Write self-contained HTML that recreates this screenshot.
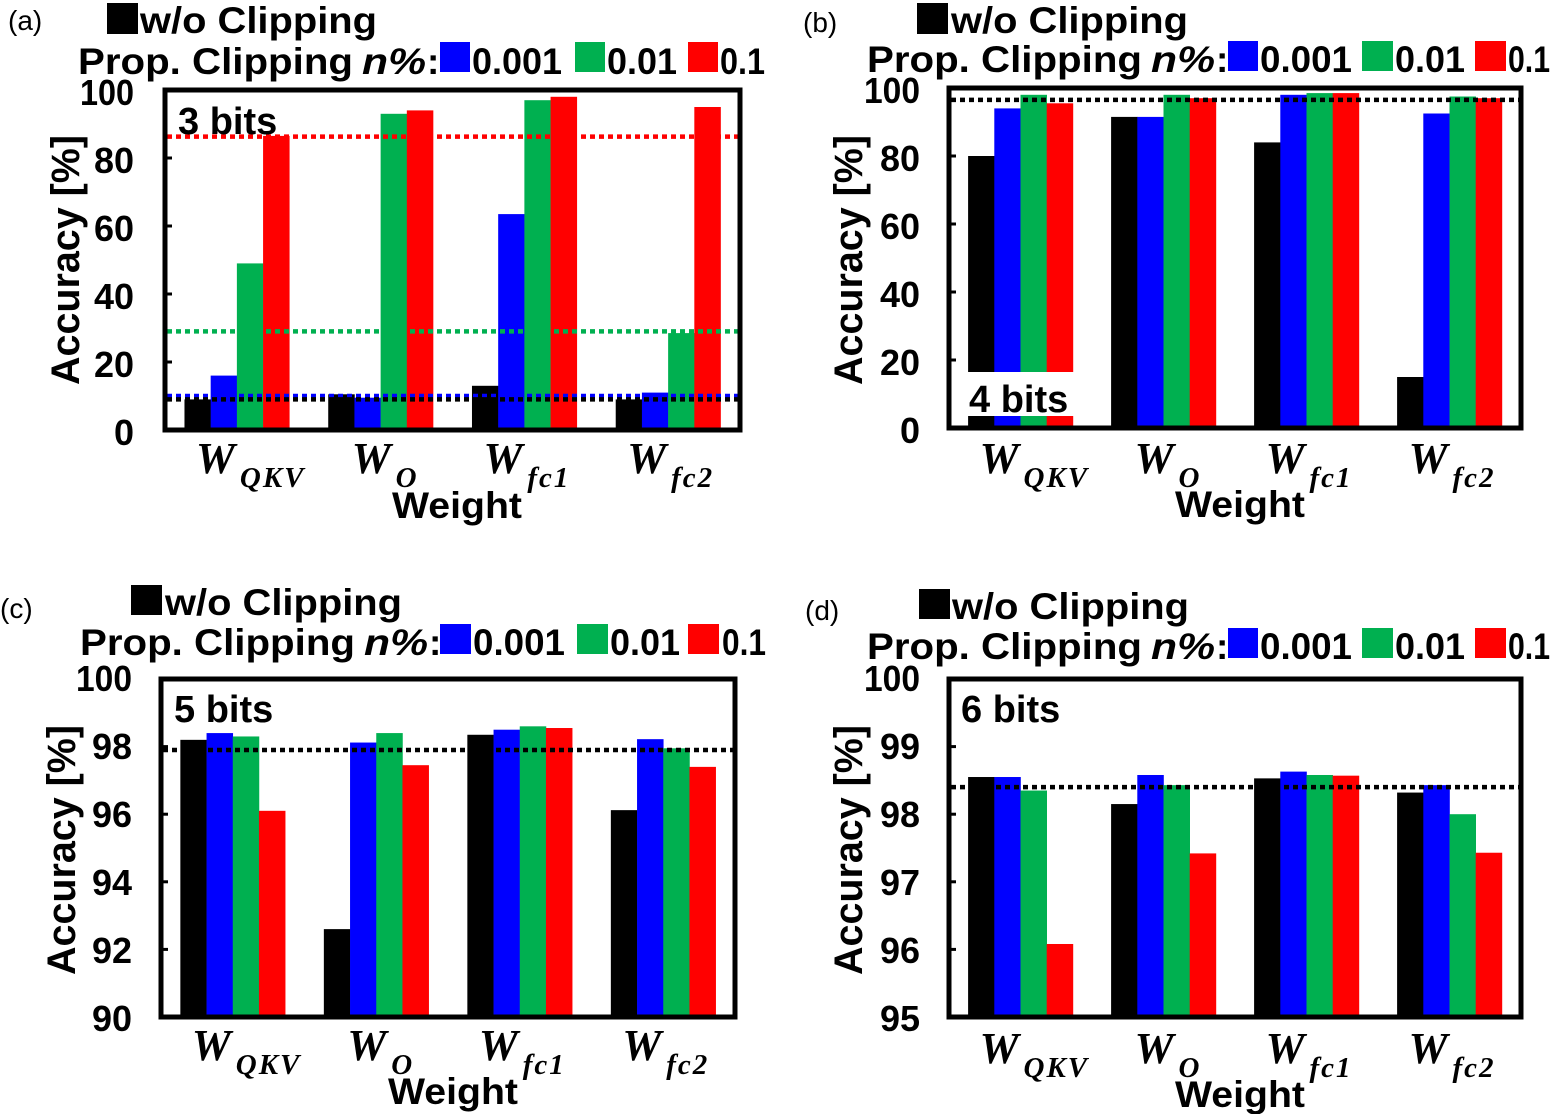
<!DOCTYPE html>
<html><head><meta charset="utf-8"><style>
html,body{margin:0;padding:0;background:#fff;}
svg{display:block;}
.t{font-family:"Liberation Sans",Arial,sans-serif;font-weight:bold;fill:#000;}
.pl{font-family:"Liberation Sans",Arial,sans-serif;font-size:28px;fill:#000;}
.w{font-family:"Liberation Serif","DejaVu Serif",serif;font-style:italic;font-weight:bold;fill:#000;}
</style></head><body>
<svg id="s" width="1550" height="1114" viewBox="0 0 1550 1114" xmlns="http://www.w3.org/2000/svg">
<g id="bars"></g>
<text class="pl" x="8" y="30">(a)</text>
<text class="pl" x="803" y="32">(b)</text>
<text class="pl" x="0" y="618">(c)</text>
<text class="pl" x="805" y="620">(d)</text>

<rect x="107" y="3" width="31" height="31" fill="#000"/>
<text class="t" x="140" y="33" font-size="37" textLength="237" lengthAdjust="spacingAndGlyphs">w/o Clipping</text>
<text class="t" x="78" y="74" font-size="37" textLength="275" lengthAdjust="spacingAndGlyphs">Prop. Clipping</text>
<text class="t" x="362" y="74" font-size="37" font-style="italic" textLength="64" lengthAdjust="spacingAndGlyphs">n%</text>
<text class="t" x="427" y="74" font-size="37">:</text>
<rect x="440" y="42" width="30" height="30" fill="#0000ff"/>
<text class="t" x="472" y="74" font-size="37" textLength="90" lengthAdjust="spacingAndGlyphs">0.001</text>
<rect x="575" y="42" width="30" height="30" fill="#00b050"/>
<text class="t" x="607" y="74" font-size="37" textLength="70" lengthAdjust="spacingAndGlyphs">0.01</text>
<rect x="688" y="42" width="30" height="30" fill="#ff0000"/>
<text class="t" x="720" y="74" font-size="37" textLength="45" lengthAdjust="spacingAndGlyphs">0.1</text>

<rect x="917" y="3" width="31" height="31" fill="#000"/>
<text class="t" x="951" y="33" font-size="37" textLength="237" lengthAdjust="spacingAndGlyphs">w/o Clipping</text>
<text class="t" x="867" y="72" font-size="37" textLength="275" lengthAdjust="spacingAndGlyphs">Prop. Clipping</text>
<text class="t" x="1151" y="72" font-size="37" font-style="italic" textLength="64" lengthAdjust="spacingAndGlyphs">n%</text>
<text class="t" x="1216" y="72" font-size="37">:</text>
<rect x="1228" y="41" width="30" height="30" fill="#0000ff"/>
<text class="t" x="1260" y="72" font-size="37" textLength="92" lengthAdjust="spacingAndGlyphs">0.001</text>
<rect x="1362" y="41" width="31" height="30" fill="#00b050"/>
<text class="t" x="1395" y="72" font-size="37" textLength="70" lengthAdjust="spacingAndGlyphs">0.01</text>
<rect x="1475" y="41" width="31" height="30" fill="#ff0000"/>
<text class="t" x="1508" y="72" font-size="37" textLength="42" lengthAdjust="spacingAndGlyphs">0.1</text>

<rect x="131" y="585" width="31" height="30" fill="#000"/>
<text class="t" x="165" y="615" font-size="37" textLength="237" lengthAdjust="spacingAndGlyphs">w/o Clipping</text>
<text class="t" x="80" y="655" font-size="37" textLength="275" lengthAdjust="spacingAndGlyphs">Prop. Clipping</text>
<text class="t" x="364" y="655" font-size="37" font-style="italic" textLength="64" lengthAdjust="spacingAndGlyphs">n%</text>
<text class="t" x="429" y="655" font-size="37">:</text>
<rect x="440" y="624" width="31" height="30" fill="#0000ff"/>
<text class="t" x="473" y="655" font-size="37" textLength="92" lengthAdjust="spacingAndGlyphs">0.001</text>
<rect x="577" y="624" width="31" height="30" fill="#00b050"/>
<text class="t" x="610" y="655" font-size="37" textLength="70" lengthAdjust="spacingAndGlyphs">0.01</text>
<rect x="688" y="624" width="31" height="30" fill="#ff0000"/>
<text class="t" x="722" y="655" font-size="37" textLength="44" lengthAdjust="spacingAndGlyphs">0.1</text>

<rect x="919" y="589" width="31" height="30" fill="#000"/>
<text class="t" x="952" y="619" font-size="37" textLength="237" lengthAdjust="spacingAndGlyphs">w/o Clipping</text>
<text class="t" x="867" y="659" font-size="37" textLength="275" lengthAdjust="spacingAndGlyphs">Prop. Clipping</text>
<text class="t" x="1151" y="659" font-size="37" font-style="italic" textLength="64" lengthAdjust="spacingAndGlyphs">n%</text>
<text class="t" x="1216" y="659" font-size="37">:</text>
<rect x="1228" y="628" width="30" height="30" fill="#0000ff"/>
<text class="t" x="1260" y="659" font-size="37" textLength="92" lengthAdjust="spacingAndGlyphs">0.001</text>
<rect x="1362" y="628" width="31" height="30" fill="#00b050"/>
<text class="t" x="1395" y="659" font-size="37" textLength="70" lengthAdjust="spacingAndGlyphs">0.01</text>
<rect x="1475" y="628" width="31" height="30" fill="#ff0000"/>
<text class="t" x="1508" y="659" font-size="37" textLength="42" lengthAdjust="spacingAndGlyphs">0.1</text>

<text class="t" font-size="40" text-anchor="middle" transform="translate(79,260) rotate(-90)" textLength="250" lengthAdjust="spacingAndGlyphs">Accuracy [%]</text>
<text class="t" font-size="40" text-anchor="middle" transform="translate(862,260) rotate(-90)" textLength="250" lengthAdjust="spacingAndGlyphs">Accuracy [%]</text>
<text class="t" font-size="40" text-anchor="middle" transform="translate(75,850) rotate(-90)" textLength="250" lengthAdjust="spacingAndGlyphs">Accuracy [%]</text>
<text class="t" font-size="40" text-anchor="middle" transform="translate(862,850) rotate(-90)" textLength="250" lengthAdjust="spacingAndGlyphs">Accuracy [%]</text>

<g class="t" font-size="36" text-anchor="end">
<text x="134" y="105" textLength="54" lengthAdjust="spacingAndGlyphs">100</text>
<text x="134" y="173">80</text><text x="134" y="241">60</text><text x="134" y="309">40</text><text x="134" y="377">20</text><text x="134" y="445">0</text>
</g>
<g class="t" font-size="36" text-anchor="end">
<text x="920" y="103" textLength="56" lengthAdjust="spacingAndGlyphs">100</text>
<text x="920" y="171">80</text><text x="920" y="239">60</text><text x="920" y="307">40</text><text x="920" y="375">20</text><text x="920" y="443">0</text>
</g>
<g class="t" font-size="36" text-anchor="end">
<text x="132" y="691" textLength="56" lengthAdjust="spacingAndGlyphs">100</text>
<text x="132" y="759">98</text><text x="132" y="827">96</text><text x="132" y="895">94</text><text x="132" y="963">92</text><text x="132" y="1031">90</text>
</g>
<g class="t" font-size="36" text-anchor="end">
<text x="920" y="691" textLength="56" lengthAdjust="spacingAndGlyphs">100</text>
<text x="920" y="759">99</text><text x="920" y="827">98</text><text x="920" y="895">97</text><text x="920" y="963">96</text><text x="920" y="1031">95</text>
</g>

<g id="fg"></g>

<text class="t" x="178" y="134" font-size="38">3 bits</text>
<rect x="968" y="372" width="106" height="44" fill="#fff"/>
<text class="t" x="969" y="412" font-size="38">4 bits</text>
<text class="t" x="174" y="722" font-size="38">5 bits</text>
<text class="t" x="961" y="722" font-size="38">6 bits</text>

<g id="cats"></g>
</svg>
<script>
var NS="http://www.w3.org/2000/svg";
var bars=document.getElementById('bars'),fg=document.getElementById('fg'),cats=document.getElementById('cats');
function el(p,n,a,txt){var e=document.createElementNS(NS,n);for(var k in a)e.setAttribute(k,a[k]);if(txt!==undefined)e.textContent=txt;p.appendChild(e);return e;}
var C=['#000','#0000ff','#00b050','#ff0000'];
var P=[
 {L:165,R:740,T:90,B:430,lo:0,hi:100,ticks:[0,20,40,60,80,100],
  v:[[9,16,49,86.5],[10.5,9.5,93,94],[13,63.5,97,98],[9,11,28.5,95]],
  refs:[[86.3,'#ff0000'],[29,'#00b050'],[10,'#0000ff'],[9,'#000']],sub:[470,518],wx:457},
 {L:949,R:1521,T:88,B:428,lo:0,hi:100,ticks:[0,20,40,60,80,100],
  v:[[80,94,98,95.5],[91.5,91.5,98,97],[84,98,98.5,98.5],[15,92.5,97.5,97]],
  refs:[[96.5,'#000']],sub:[470,517],wx:1240},
 {L:161,R:735,T:679,B:1017,lo:90,hi:100,ticks:[90,92,94,96,98,100],
  v:[[98.2,98.4,98.3,96.1],[92.6,98.12,98.4,97.45],[98.35,98.5,98.6,98.55],[96.12,98.22,97.95,97.4]],
  refs:[[97.9,'#000']],sub:[1057,1104],wx:453},
 {L:949,R:1521,T:679,B:1017,lo:95,hi:100,ticks:[95,96,97,98,99,100],
  v:[[98.55,98.55,98.35,96.08],[98.15,98.58,98.43,97.42],[98.53,98.63,98.58,98.57],[98.32,98.43,98.0,97.43]],
  refs:[[98.4,'#000']],sub:[1060,1107],wx:1240}
];
var names=[['QKV'],['O'],['fc1'],['fc2']];
P.forEach(function(p,pi){
 function Y(v){return p.B-(v-p.lo)/(p.hi-p.lo)*(p.B-p.T);}
 var gw=(p.R-p.L)/4,bw=26.2;
 for(var g=0;g<4;g++){
  var cx=p.L+gw*(g+0.5);
  for(var s=0;s<4;s++){
   var x=cx-2*bw+s*bw,y=Y(p.v[g][s]);
   el(bars,'rect',{x:x,y:y,width:bw+0.3,height:p.B-y,fill:C[s]});
  }
  var wx=cx-41+(g==1?12:0);
  el(cats,'text',{'class':'w',x:wx,y:p.sub[0]+3,'font-size':44},'W');
  el(cats,'text',{'class':'w',x:wx+44,y:p.sub[0]+17,'font-size':29,'letter-spacing':2},names[g][0]);
 }
 el(cats,'text',{'class':'t',x:p.wx,y:p.sub[1],'font-size':37,'text-anchor':'middle',textLength:130,lengthAdjust:'spacingAndGlyphs'},'Weight');
 p.refs.forEach(function(r){
  el(fg,'line',{x1:p.L+2,x2:p.R-2,y1:Y(r[0]),y2:Y(r[0]),stroke:r[1],'stroke-width':4.5,'stroke-dasharray':'5 4'});
 });
 p.ticks.forEach(function(t){var y=Y(t);el(fg,'line',{x1:p.L,x2:p.L+7,y1:y,y2:y,stroke:'#000','stroke-width':3});});
 el(fg,'rect',{x:p.L,y:p.T,width:p.R-p.L,height:p.B-p.T,fill:'none',stroke:'#000','stroke-width':5});
});
</script>
</body></html>
